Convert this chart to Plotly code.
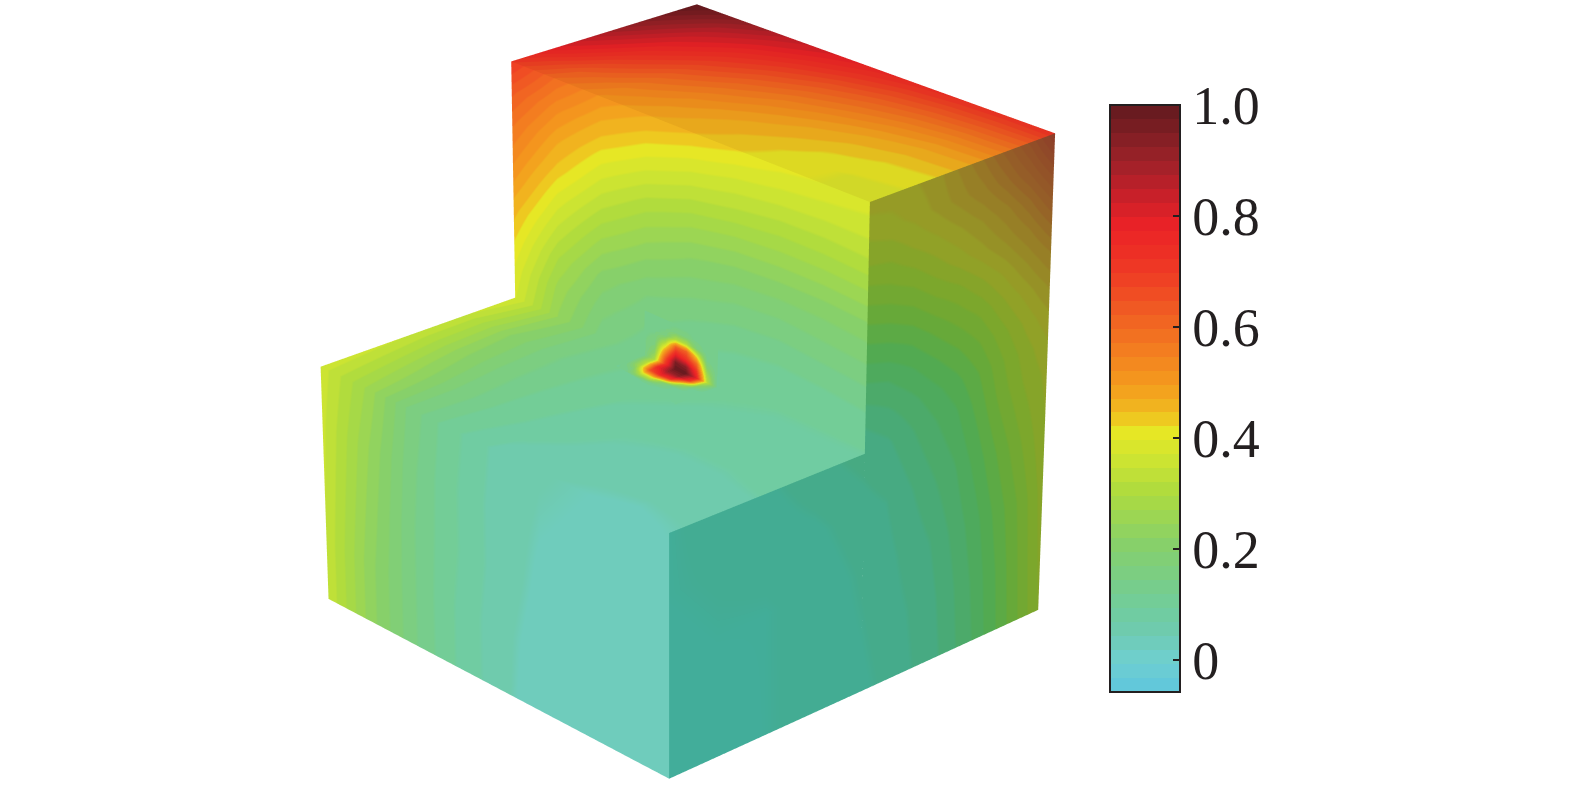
import numpy as np
import plotly.graph_objects as go

# colorbar stops (value, r, g, b)
stop_values = [-0.058, 0.0, 0.05, 0.1, 0.2, 0.3, 0.37, 0.41, 0.425, 0.44, 0.47, 0.5, 0.6, 0.7, 0.78, 0.85, 0.9, 1.0]
stop_r = [95, 112, 111, 114, 133, 174, 211, 232, 236, 240, 243, 245, 242, 239, 236, 192, 156, 98]
stop_g = [198, 208, 203, 205, 208, 219, 230, 232, 214, 192, 172, 154, 106, 58, 35, 32, 34, 26]
stop_b = [222, 207, 176, 154, 110, 63, 48, 37, 34, 32, 31, 30, 34, 37, 39, 42, 41, 31]
# same values as seen on the shaded right hand face
shade_values = [-0.058, 0.03, 0.1, 0.2, 0.25, 0.3, 0.37, 0.45, 0.55, 0.72, 1.0]
shade_r = [62, 66, 71, 80, 100, 122, 150, 152, 150, 142, 90]
shade_g = [174, 174, 171, 170, 170, 168, 160, 130, 95, 62, 30]
shade_b = [175, 155, 133, 85, 60, 45, 38, 38, 40, 42, 30]
n_bands = 42
tick_vals = [0, 0.2, 0.4, 0.6, 0.8, 1.0]
tick_text = ["0", "0.2", "0.4", "0.6", "0.8", "1.0"]

# corners of the solid: x towards right, y towards back left, z up.
# not a perfect box on purpose, the small offsets stand in for the
# perspective of the original since the scene camera here is orthographic
corner_names = ["f0", "f1", "l0", "l1", "r0", "r1", "m0", "m1", "n1", "m2", "n2", "r2", "b2"]
corner_x = [-0.007, -0.007, 0.008, -0.003, 0.993, 1.005, 0.503, 0.508, 0.511, 0.515, 0.505, 1.016, 1.007]
corner_y = [0.007, 0.007, 0.992, 1.003, 0.007, -0.005, -0.003, -0.009, 0.989, -0.016, 0.994, -0.017, 0.993]
corner_z = [-0.003, 0.520, 0.052, 0.546, 0.044, 0.551, 0.027, 0.533, 0.537, 1.069, 1.040, 1.059, 1.005]

a_grid = [0, 0.125, 0.25, 0.375, 0.5, 0.625, 0.75, 0.875, 1]
c_low = [0, 0.125, 0.25, 0.375, 0.5]
c_high = [0.5, 0.5625, 0.625, 0.6875, 0.75, 0.8125, 0.875, 0.9375, 1]
b_low = [0, 0.125, 0.25, 0.375, 0.5]
b_high = [0.5, 0.5625, 0.625, 0.6875, 0.75, 0.8125, 0.875, 0.9375, 1]

# front left face, rows c_low, columns a_grid
front_vals = [
    [0.03, 0.02, 0.02, 0.025, 0.05, 0.09, 0.15, 0.23, 0.34],
    [0.03, 0.025, 0.025, 0.03, 0.05, 0.09, 0.15, 0.23, 0.34],
    [0.03, 0.03, 0.03, 0.035, 0.055, 0.095, 0.15, 0.24, 0.345],
    [0.035, 0.03, 0.035, 0.04, 0.055, 0.095, 0.155, 0.25, 0.35],
    [0.04, 0.035, 0.04, 0.045, 0.06, 0.10, 0.165, 0.27, 0.36],
]
# step face, rows b_low, columns a_grid
step_vals = [
    [0.04, 0.035, 0.04, 0.045, 0.06, 0.10, 0.165, 0.27, 0.36],
    [0.05, 0.05, 0.05, 0.06, 0.075, 0.11, 0.165, 0.25, 0.35],
    [0.07, 0.065, 0.065, 0.07, 0.085, 0.115, 0.155, 0.23, 0.34],
    [0.08, 0.08, 0.08, 0.085, 0.095, 0.12, 0.15, 0.22, 0.34],
    [0.09, 0.09, 0.09, 0.095, 0.105, 0.125, 0.155, 0.24, 0.37],
]
# wall, rows c_high, columns a_grid
wall_vals = [
    [0.09, 0.09, 0.09, 0.095, 0.105, 0.125, 0.155, 0.24, 0.37],
    [0.11, 0.105, 0.105, 0.11, 0.12, 0.145, 0.18, 0.26, 0.39],
    [0.14, 0.135, 0.13, 0.135, 0.15, 0.17, 0.21, 0.295, 0.42],
    [0.175, 0.17, 0.165, 0.17, 0.185, 0.21, 0.255, 0.34, 0.455],
    [0.21, 0.205, 0.205, 0.21, 0.225, 0.255, 0.305, 0.385, 0.50],
    [0.26, 0.255, 0.255, 0.26, 0.275, 0.305, 0.355, 0.435, 0.54],
    [0.31, 0.305, 0.305, 0.315, 0.33, 0.36, 0.405, 0.48, 0.58],
    [0.35, 0.35, 0.355, 0.365, 0.385, 0.415, 0.46, 0.53, 0.63],
    [0.38, 0.39, 0.40, 0.42, 0.445, 0.475, 0.515, 0.59, 0.70],
]
# top face, rows b_high, columns a_grid
top_vals = [
    [0.38, 0.39, 0.40, 0.42, 0.445, 0.475, 0.515, 0.59, 0.70],
    [0.385, 0.39, 0.405, 0.43, 0.46, 0.495, 0.54, 0.62, 0.74],
    [0.40, 0.405, 0.42, 0.45, 0.48, 0.52, 0.575, 0.665, 0.79],
    [0.42, 0.425, 0.445, 0.475, 0.51, 0.555, 0.615, 0.71, 0.83],
    [0.455, 0.46, 0.48, 0.51, 0.545, 0.595, 0.66, 0.75, 0.87],
    [0.50, 0.505, 0.525, 0.555, 0.59, 0.64, 0.705, 0.79, 0.905],
    [0.56, 0.565, 0.58, 0.605, 0.64, 0.69, 0.75, 0.83, 0.935],
    [0.63, 0.635, 0.645, 0.665, 0.70, 0.745, 0.80, 0.87, 0.97],
    [0.72, 0.715, 0.72, 0.735, 0.76, 0.80, 0.85, 0.92, 1.0],
]
# right face, lower part near the front, rows c_low, columns b_low
right_a_vals = [
    [0.03, 0.03, 0.04, 0.05, 0.06],
    [0.03, 0.035, 0.04, 0.05, 0.065],
    [0.035, 0.04, 0.04, 0.05, 0.07],
    [0.04, 0.045, 0.05, 0.06, 0.08],
    [0.04, 0.05, 0.06, 0.08, 0.10],
]
# right face, lower part to the right, rows c_low, columns b_high
right_b_vals = [
    [0.06, 0.07, 0.085, 0.105, 0.135, 0.17, 0.215, 0.265, 0.32],
    [0.065, 0.075, 0.09, 0.11, 0.14, 0.175, 0.22, 0.27, 0.325],
    [0.07, 0.08, 0.10, 0.12, 0.15, 0.185, 0.23, 0.275, 0.33],
    [0.08, 0.09, 0.115, 0.14, 0.165, 0.205, 0.25, 0.295, 0.34],
    [0.10, 0.115, 0.14, 0.165, 0.19, 0.23, 0.28, 0.32, 0.35],
]
# right face upper part, rows c_high, columns b_high
right_c_vals = [
    [0.10, 0.115, 0.14, 0.165, 0.19, 0.23, 0.28, 0.32, 0.35],
    [0.125, 0.14, 0.16, 0.185, 0.21, 0.245, 0.29, 0.33, 0.365],
    [0.16, 0.17, 0.19, 0.215, 0.24, 0.27, 0.31, 0.35, 0.39],
    [0.20, 0.21, 0.225, 0.25, 0.275, 0.30, 0.34, 0.38, 0.425],
    [0.24, 0.25, 0.265, 0.29, 0.31, 0.34, 0.375, 0.42, 0.47],
    [0.28, 0.29, 0.305, 0.33, 0.355, 0.385, 0.42, 0.465, 0.525],
    [0.32, 0.325, 0.345, 0.365, 0.39, 0.42, 0.46, 0.515, 0.585],
    [0.35, 0.36, 0.375, 0.40, 0.43, 0.465, 0.515, 0.575, 0.65],
    [0.38, 0.38, 0.39, 0.41, 0.45, 0.50, 0.56, 0.63, 0.72],
]
# hot spot, same columns on both patches
spot_a = [0.42, 0.45, 0.48, 0.51, 0.54, 0.57, 0.60, 0.63]
spot_wall_c = [0.5, 0.515, 0.53, 0.545, 0.56, 0.575, 0.59]
spot_wall_vals = [
    [0.11, 0.33, 0.80, 1.0, 1.0, 0.72, 0.30, 0.13],
    [0.11, 0.28, 0.72, 0.92, 0.95, 0.62, 0.22, 0.13],
    [0.12, 0.20, 0.60, 0.72, 0.78, 0.48, 0.17, 0.14],
    [0.12, 0.14, 0.40, 0.62, 0.62, 0.30, 0.15, 0.14],
    [0.13, 0.13, 0.17, 0.30, 0.30, 0.15, 0.14, 0.14],
    [0.13, 0.13, 0.14, 0.15, 0.15, 0.14, 0.14, 0.14],
    [0.14, 0.14, 0.14, 0.14, 0.14, 0.14, 0.14, 0.14],
]
spot_step_b = [0.5, 0.48, 0.46, 0.44, 0.42, 0.40, 0.38]
spot_step_vals = [
    [0.11, 0.33, 0.80, 1.0, 1.0, 0.72, 0.30, 0.13],
    [0.11, 0.22, 0.70, 0.92, 0.90, 0.75, 0.32, 0.13],
    [0.11, 0.12, 0.30, 0.70, 0.75, 0.65, 0.28, 0.12],
    [0.10, 0.11, 0.12, 0.20, 0.38, 0.36, 0.16, 0.12],
    [0.10, 0.10, 0.11, 0.12, 0.13, 0.14, 0.12, 0.11],
    [0.10, 0.10, 0.10, 0.11, 0.11, 0.11, 0.11, 0.11],
    [0.09, 0.09, 0.09, 0.09, 0.09, 0.09, 0.09, 0.09],
]

cmin = stop_values[0]
cmax = stop_values[-1]


def band_scale(values, reds, greens, blues, rf=1.0, gf=1.0, bf=1.0):
    # stepped colorscale, the legend shows flat bands
    scale = []
    for i in range(n_bands):
        lo = i / n_bands
        hi = (i + 1) / n_bands
        v = cmin + (lo + hi) / 2 * (cmax - cmin)
        r = np.interp(v, values, reds) * rf
        g = np.interp(v, values, greens) * gf
        b = np.interp(v, values, blues) * bf
        col = "rgb(%d,%d,%d)" % (r, g, b)
        scale.append([lo, col])
        scale.append([hi, col])
    return scale


normal = band_scale(stop_values, stop_r, stop_g, stop_b)
top_scale = band_scale(stop_values, stop_r, stop_g, stop_b, 0.96, 0.94, 0.92)
shaded = band_scale(shade_values, shade_r, shade_g, shade_b)


def corner(name):
    i = corner_names.index(name)
    return np.array([corner_x[i], corner_y[i], corner_z[i]])


def surface(xyz, vals, scale):
    return go.Surface(
        x=xyz[0], y=xyz[1], z=xyz[2], surfacecolor=np.array(vals),
        colorscale=scale, cmin=cmin, cmax=cmax, showscale=False,
        lighting=dict(ambient=1, diffuse=0, specular=0, fresnel=0, roughness=1),
        hoverinfo="skip",
    )


def face(corners, u, v, vals, scale):
    # corners: at u0v0, u1v0, u0v1, u1v1; u runs along columns, v along rows
    p00, p10, p01, p11 = [corner(n) for n in corners]
    uu, vv = np.meshgrid(u, v)
    uu = (uu - u[0]) / (u[-1] - u[0])
    vv = (vv - v[0]) / (v[-1] - v[0])
    xyz = [p00[k] * (1 - uu) * (1 - vv) + p10[k] * uu * (1 - vv)
           + p01[k] * (1 - uu) * vv + p11[k] * uu * vv for k in range(3)]
    return surface(xyz, vals, scale)


def spot(target, t, vals, lift):
    # patch leaving the wall foot m1-n1 towards the corner given by target
    aa, tt = np.meshgrid(spot_a, t)
    foot0, foot1, end = corner("m1"), corner("n1"), corner(target)
    xyz = [foot0[k] * (1 - aa) + foot1[k] * aa + (end[k] - foot0[k]) * tt + lift[k] for k in range(3)]
    return surface(xyz, vals, normal)


fig = go.Figure()
fig.add_trace(face(["f0", "l0", "f1", "l1"], a_grid, c_low, front_vals, normal))
fig.add_trace(face(["f1", "l1", "m1", "n1"], a_grid, b_low, step_vals, normal))
fig.add_trace(face(["m1", "n1", "m2", "n2"], a_grid, c_high, wall_vals, normal))
fig.add_trace(face(["m2", "n2", "r2", "b2"], a_grid, b_high, top_vals, top_scale))
fig.add_trace(face(["f0", "m0", "f1", "m1"], b_low, c_low, right_a_vals, shaded))
fig.add_trace(face(["m0", "r0", "m1", "r1"], b_high, c_low, right_b_vals, shaded))
fig.add_trace(face(["m1", "r1", "m2", "r2"], b_high, c_high, right_c_vals, shaded))

# hot spot patches, just in front of the wall and the step
fig.add_trace(spot("m2", (np.array(spot_wall_c) - 0.5) * 2, spot_wall_vals, (-0.002, 0, 0)))
fig.add_trace(spot("f1", (0.5 - np.array(spot_step_b)) * 2, spot_step_vals, (0, 0, 0.002)))

# colorbar carried by the first trace
fig.data[0].update(
    showscale=True,
    colorbar=dict(
        x=1110 / 1575, xanchor="left", xpad=0, y=1 - 105 / 787, yanchor="top", ypad=0,
        thickness=70, thicknessmode="pixels", len=587, lenmode="pixels",
        outlinecolor="#231f20", outlinewidth=2,
        tickmode="array", tickvals=tick_vals, ticktext=tick_text,
        ticks="inside", ticklen=8, tickwidth=2, tickcolor="#231f20",
        tickfont=dict(family="Liberation Serif", size=54, color="#231f20"),
    ),
)

axis = dict(visible=False, range=[-0.1, 1.1], autorange=False)
fig.update_layout(
    width=1575, height=787,
    margin=dict(l=0, r=0, t=0, b=0),
    paper_bgcolor="white",
    scene=dict(
        domain=dict(x=[0, 0.867], y=[0.004, 1]),
        xaxis=axis, yaxis=axis, zaxis=axis,
        aspectmode="manual", aspectratio=dict(x=1.56, y=1.56, z=1.583),
        camera=dict(
            projection=dict(type="orthographic"),
            eye=dict(x=-1.2, y=-1.26, z=0.8),
            up=dict(x=0, y=0, z=1),
            center=dict(x=0, y=0, z=0),
        ),
        bgcolor="white",
    ),
)
# the apex of the solid touches the top of the page, so no body margin
fig.write_html(
    "out.html",
    config={"displayModeBar": False},
    post_script="document.body.style.margin = '0';",
)
